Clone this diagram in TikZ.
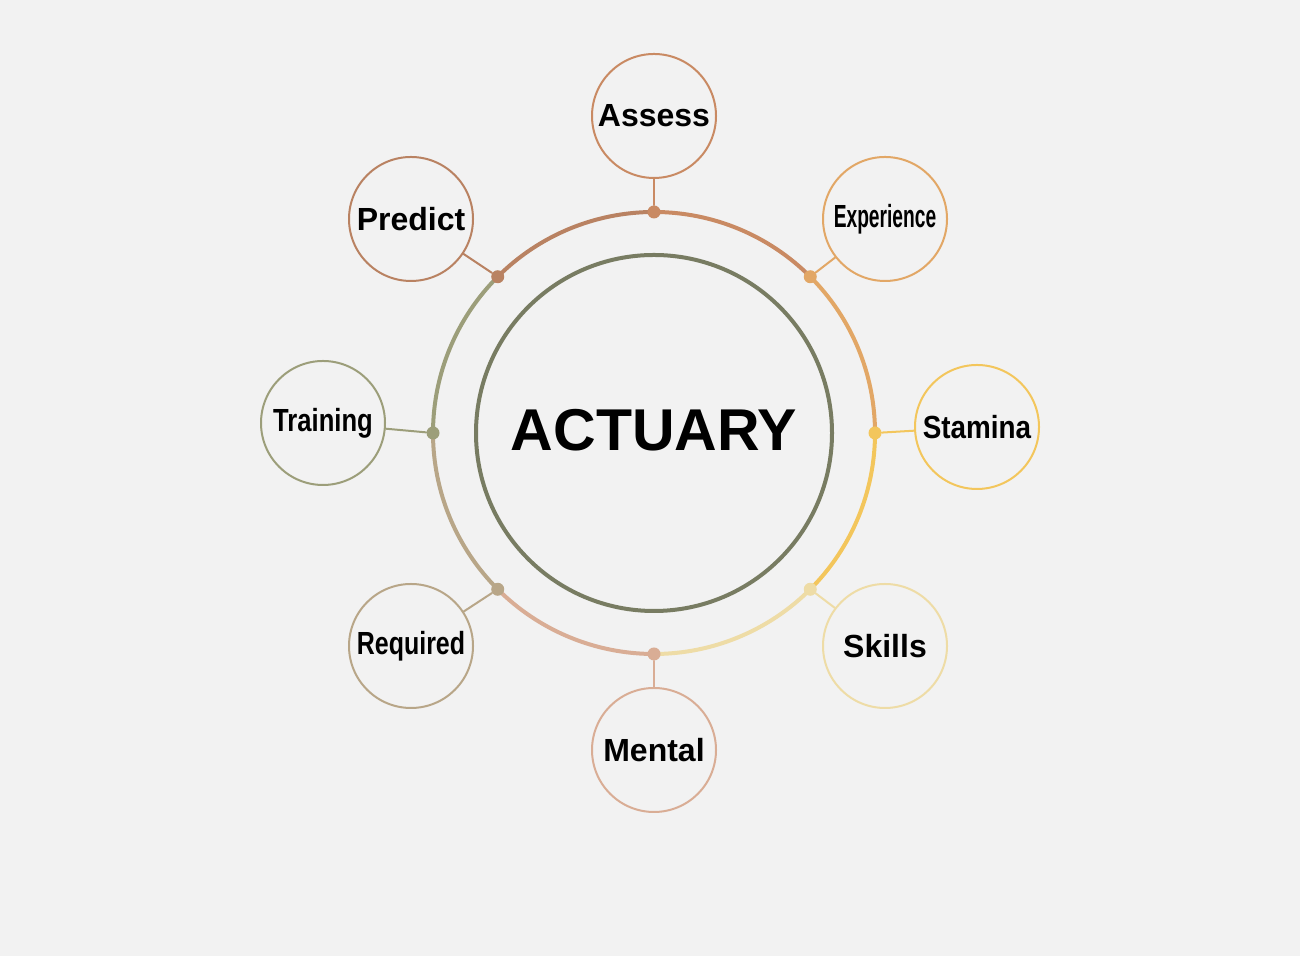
\documentclass[tikz,border=0pt]{standalone}
\usepackage{fontspec}
\setmainfont{Liberation Sans}
\definecolor{paper}{HTML}{F2F2F2}
\definecolor{core}{HTML}{787C62}
\definecolor{cAssess}{HTML}{C98A63}
\definecolor{cExperience}{HTML}{E2A766}
\definecolor{cStamina}{HTML}{F3C65C}
\definecolor{cSkills}{HTML}{EEDCA6}
\definecolor{cMental}{HTML}{D9AD95}
\definecolor{cRequired}{HTML}{B8A688}
\definecolor{cTraining}{HTML}{9C9E7A}
\definecolor{cPredict}{HTML}{B98262}
\tikzset{
  bubble/.style={circle,draw=#1,line width=1pt,minimum size=62pt,inner sep=0pt,
    font=\bfseries\fontsize{16}{19}\selectfont},
  ringdot/.style={circle,fill=#1,inner sep=0pt,minimum size=6.5pt},
  link/.style={draw=#1,line width=1pt},
  ringarc/.style={draw=#1,line width=2pt},
}
\begin{document}
\begin{tikzpicture}[x=0.5pt,y=0.5pt,line cap=round]
  \fill[paper] (0,0) rectangle (1300,956);
  \useasboundingbox (0,0) rectangle (1300,956);
  \coordinate (o) at (654,523);
  % centre
  \draw[core,line width=2pt] (o) circle[radius=89pt];
  \node[font=\bfseries\fontsize{29.5}{35}\selectfont] (actuary) at (654,526) {ACTUARY};
  % ring, one arc per dot
  \foreach \a/\c in {90/cAssess,45/cExperience,0/cStamina,-45/cSkills,
                     -90/cMental,-135/cRequired,180/cTraining,135/cPredict}
    \draw[ringarc=\c] (o) ++(\a:110.5pt) arc[start angle=\a,end angle=\a-45,radius=110.5pt];
  % bubbles
  \node[bubble=cAssess] (assess) at (654,840) {Assess};
  \node[bubble=cExperience] (experience) at (885,737) {\scalebox{0.6}[1]{Experience}};
  \node[bubble=cStamina] (stamina) at (977,529) {\scalebox{0.87}[1]{Stamina}};
  \node[bubble=cSkills] (skills) at (885,310) {Skills};
  \node[bubble=cMental] (mental) at (654,206) {Mental};
  \node[bubble=cRequired] (required) at (411,310) {\scalebox{0.78}[1]{Required}};
  \node[bubble=cTraining] (training) at (323,533) {\scalebox{0.8}[1]{Training}};
  \node[bubble=cPredict] (predict) at (411,737) {Predict};
  % dots and links
  \foreach \a/\c/\n in {90/cAssess/assess,45/cExperience/experience,0/cStamina/stamina,
                        -45/cSkills/skills,-90/cMental/mental,-135/cRequired/required,
                        180/cTraining/training,135/cPredict/predict}{
    \node[ringdot=\c] (d\n) at ([shift={(\a:110.5pt)}]o) {};
    \draw[link=\c] (d\n) -- (\n);
  }
\end{tikzpicture}
\end{document}
